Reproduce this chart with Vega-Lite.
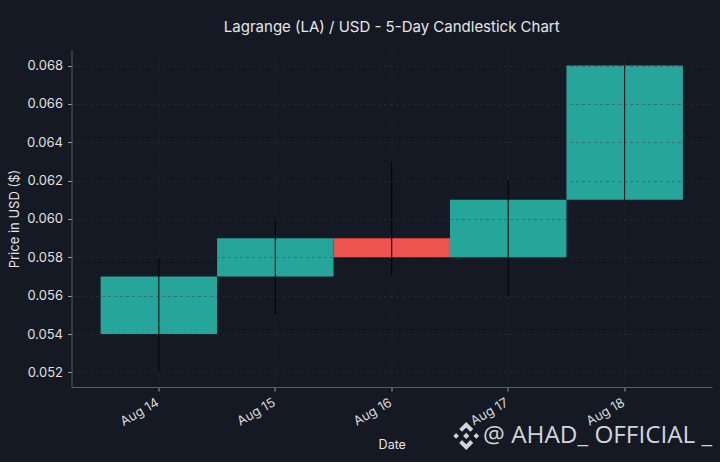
{
  "$schema": "https://vega.github.io/schema/vega-lite/v6.json",
  "width": 640.5,
  "height": 337,
  "autosize": "none",
  "padding": {"left": 71.5, "top": 50, "right": 8, "bottom": 75},
  "background": "#141924",
  "title": {
    "text": "Lagrange (LA) / USD - 5-Day Candlestick Chart",
    "color": "#e6e6e6",
    "font": "Inter",
    "fontSize": 15,
    "fontWeight": "normal",
    "anchor": "middle",
    "offset": 15
  },
  "data": {
    "values": [
      {"date": "Aug 14", "open": 0.054, "close": 0.057, "low": 0.052, "high": 0.058},
      {"date": "Aug 15", "open": 0.057, "close": 0.059, "low": 0.055, "high": 0.06},
      {"date": "Aug 16", "open": 0.059, "close": 0.058, "low": 0.057, "high": 0.063},
      {"date": "Aug 17", "open": 0.058, "close": 0.061, "low": 0.056, "high": 0.062},
      {"date": "Aug 18", "open": 0.061, "close": 0.068, "low": 0.061, "high": 0.068}
    ]
  },
  "encoding": {
    "x": {
      "field": "date",
      "type": "nominal",
      "sort": null,
      "scale": {
        "domain": ["Aug 14", "Aug 15", "Aug 16", "Aug 17", "Aug 18"],
        "paddingInner": 0,
        "paddingOuter": 0.25
      },
      "axis": {
        "title": "Date",
        "titleColor": "#e6e6e6",
        "titleFont": "Inter",
        "titleFontSize": 12.5,
        "titleFontWeight": "normal",
        "titlePadding": 10,
        "labelAngle": -30,
        "labelAlign": "right",
        "labelBaseline": "top",
        "labelColor": "#d8d8d8",
        "labelFont": "Inter",
        "labelFontSize": 13,
        "labelPadding": 5,
        "labelOffset": -4,
        "domainColor": "#555a64",
        "tickColor": "#9a9da3",
        "tickSize": 4,
        "grid": true,
        "gridColor": "#333a44",
        "gridOpacity": 0.45,
        "gridDash": [3, 3],
        "zindex": 0
      }
    }
  },
  "layer": [
    {
      "mark": {"type": "bar", "width": {"band": 1}},
      "encoding": {
        "y": {
          "field": "open",
          "type": "quantitative",
          "scale": {"domain": [0.05124, 0.06881], "nice": false, "zero": false},
          "axis": {
            "title": "Price in USD ($)",
            "titleColor": "#e6e6e6",
            "titleFont": "Inter",
            "titleFontSize": 13,
            "titleFontWeight": "normal",
            "titlePadding": 5,
            "values": [0.052, 0.054, 0.056, 0.058, 0.06, 0.062, 0.064, 0.066, 0.068],
            "format": ".3f",
            "labelColor": "#e0e0e0",
            "labelFont": "Inter",
            "labelFontSize": 13,
            "labelPadding": 5,
            "domainColor": "#555a64",
            "tickColor": "#9a9da3",
            "tickSize": 4,
            "grid": true,
            "gridColor": "#333a44",
            "gridOpacity": 0.45,
            "gridDash": [3, 3],
            "zindex": 1
          }
        },
        "y2": {"field": "close"},
        "color": {
          "condition": {"test": "datum.close >= datum.open", "value": "#26a69a"},
          "value": "#ef5350"
        }
      }
    },
    {
      "mark": {"type": "rule", "color": "#000000", "strokeWidth": 1},
      "encoding": {
        "y": {"field": "low", "type": "quantitative"},
        "y2": {"field": "high"}
      }
    },
    {
      "data": {"values": [{"date": "Aug 18", "price": 0.04869, "label": "@ AHAD_ OFFICIAL _"}]},
      "mark": {
        "type": "text",
        "align": "center",
        "baseline": "middle",
        "dx": -27,
        "color": "#d2d4d8",
        "font": "Open Sans",
        "fontSize": 24.3
      },
      "encoding": {
        "y": {"field": "price", "type": "quantitative"},
        "text": {"field": "label"}
      }
    },
    {
      "data": {"values": [{"date": "Aug 17", "price": 0.04869}]},
      "mark": {
        "type": "point",
        "filled": true,
        "opacity": 1,
        "color": "#d2d4d8",
        "xOffset": -42,
        "size": 784,
        "shape": "M0,-1L0.5,-0.5L0.3,-0.3L0,-0.6L-0.3,-0.3L-0.5,-0.5ZM0,1L0.5,0.5L0.3,0.3L0,0.6L-0.3,0.3L-0.5,0.5ZM0,-0.22L0.22,0L0,0.22L-0.22,0ZM-0.72,-0.2L-0.52,0L-0.72,0.2L-0.92,0ZM0.72,-0.2L0.92,0L0.72,0.2L0.52,0Z"
      },
      "encoding": {
        "y": {"field": "price", "type": "quantitative"}
      }
    }
  ],
  "config": {
    "view": {"stroke": "transparent"}
  }
}
